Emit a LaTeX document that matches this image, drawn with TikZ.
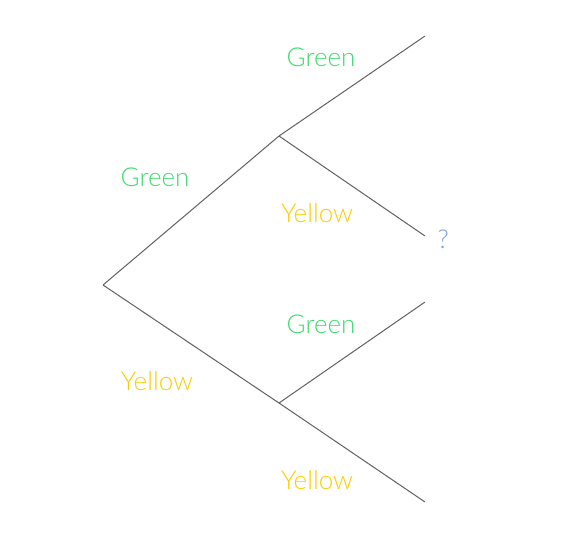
\documentclass[tikz,border=0pt]{standalone}
\usepackage{fontspec}
\setmainfont{Lato Light}
\usepackage{xcolor}
\usetikzlibrary{positioning}

\definecolor{grn}{HTML}{3DDC6E}
\definecolor{ylw}{HTML}{FFCC00}
\definecolor{qblue}{HTML}{7B9EE0}
\definecolor{edge}{HTML}{606060}

\begin{document}
\begin{tikzpicture}[
  x=1pt, y=-1pt,
  pt/.style={inner sep=0pt, minimum size=0pt},
  branch/.style={draw=edge, line width=1pt},
  lab/.style={font=\fontsize{26}{30}\selectfont},
  g/.style={lab, text=grn},
  yl/.style={lab, text=ylw}
]
\useasboundingbox (0,0) rectangle (580,557);
% tree points
\node[pt] (root) at (103,285) {};
\node[pt] (up) at (279,136) {};
\node[pt] (dn) at (279,403) {};
\node[pt] (l1) at (425,36) {};
\node[pt] (l2) at (425,236) {};
\node[pt] (l3) at (425,302) {};
\node[pt] (l4) at (425,502) {};
\draw[branch] (root) -- (up);
\draw[branch] (root) -- (dn);
\draw[branch] (up) -- (l1);
\draw[branch] (up) -- (l2);
\draw[branch] (dn) -- (l3);
\draw[branch] (dn) -- (l4);
% labels
\node[g] (gA) at (155,177) {Green};
\node[yl] (yA) at (157,381) {Yellow};
\node[g] (gB) at (321,57) {Green};
\node[yl] (yB) at (317,213) {Yellow};
\node[g] (gC) at (321,324) {Green};
\node[yl] (yC) at (317,480) {Yellow};
\node[lab, text=qblue, right=9pt of l2, yshift=-3pt] (q) {?};
\end{tikzpicture}
\end{document}
